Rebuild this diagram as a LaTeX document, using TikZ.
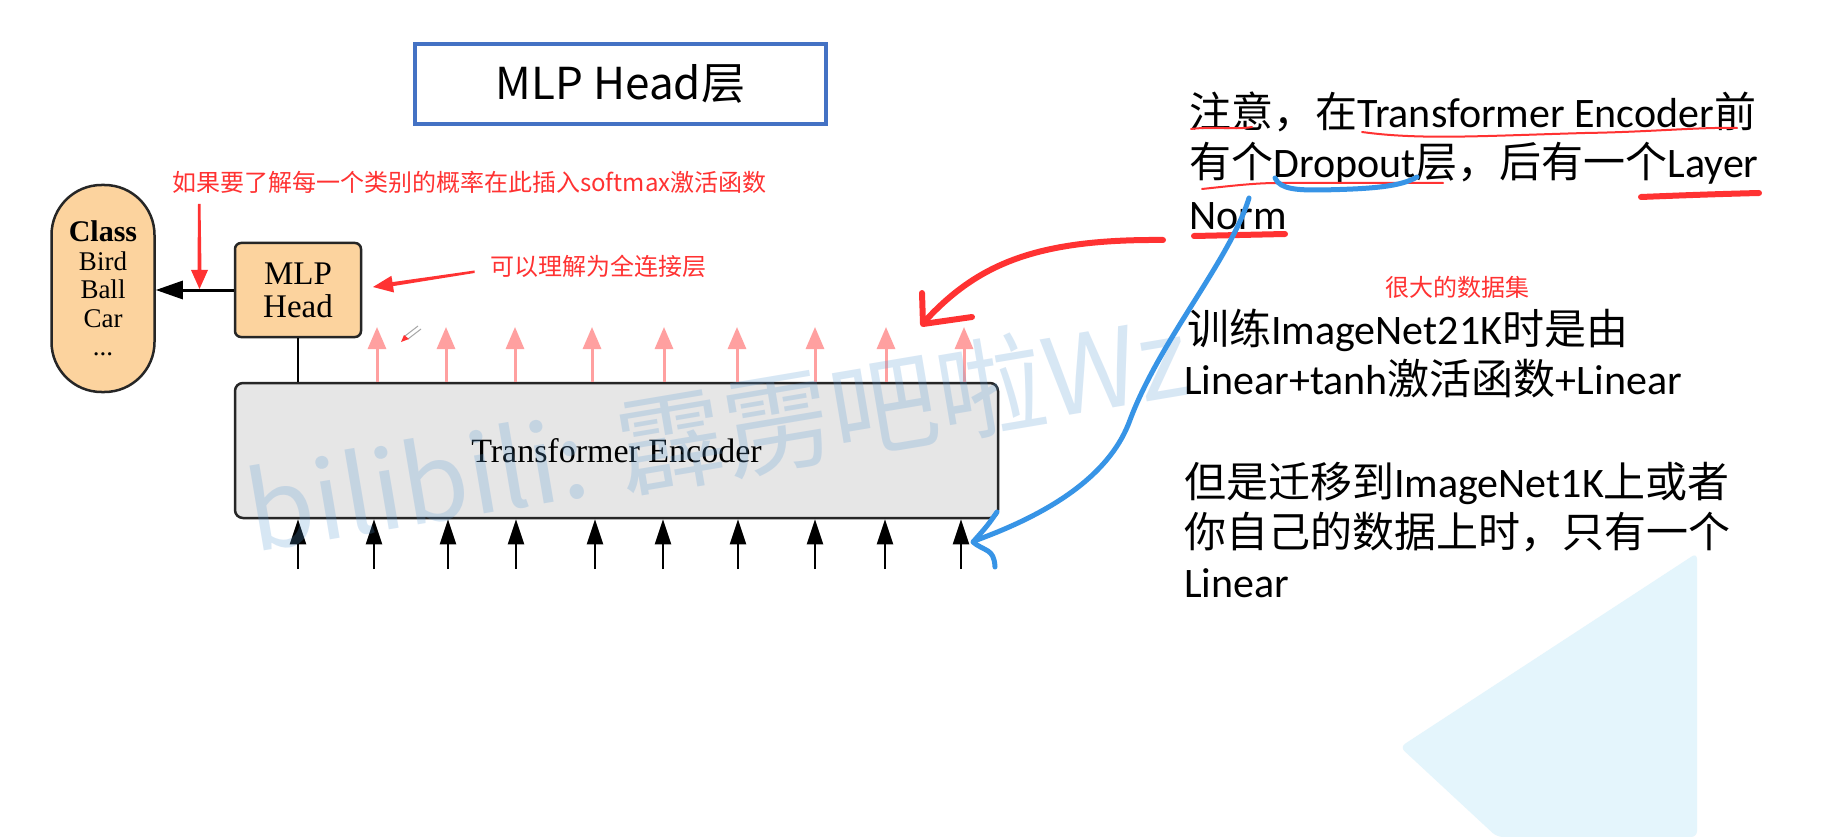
\documentclass[tikz,border=0pt]{standalone}
\usepackage{fontspec}
\newfontfamily\cjk{Noto Sans CJK SC}
\newfontfamily\lat{Carlito}
\newfontfamily\tms{Liberation Serif}
\usetikzlibrary{arrows.meta}
\definecolor{peach}{RGB}{252,211,158}
\definecolor{encgray}{RGB}{230,230,230}
\definecolor{annred}{RGB}{255,50,50}
\definecolor{annblue}{RGB}{55,148,230}
\definecolor{pinkar}{RGB}{255,160,160}
\definecolor{titleblue}{RGB}{68,114,196}
\definecolor{wmblue}{RGB}{91,155,213}
\definecolor{trib}{RGB}{228,245,252}
\begin{document}
\begin{tikzpicture}[x=1pt,y=-1pt,
  peachbox/.style={draw=black!85, line width=2.5pt, fill=peach, inner sep=0pt, align=center, font=\tms\fontsize{33}{33}\selectfont},
  rt/.style={anchor=base west, inner sep=0pt, font=\fontsize{42}{50}\selectfont},
  redtxt/.style={anchor=base west, inner sep=0pt, text=annred},
  inarrow/.style={line width=2pt, -{Triangle[length=25pt,width=16pt]}},
  pinkarrow/.style={pinkar, line width=3pt, -{Triangle[length=22pt,width=18pt]}},
  redmark/.style={annred, line width=6pt, line cap=round, line join=round},
  thinred/.style={annred, line width=2pt, line cap=round},
  bluemark/.style={annblue, line width=5pt, line cap=round, line join=round}]
\useasboundingbox (0,0) rectangle (1832,837);
\fill[white] (0,0) rectangle (1832,837);
% background play-triangle
\fill[trib, rounded corners=6pt] (1697,553) -- (1400,747) -- (1497,837) -- (1697,837) -- cycle;

% title
\node[draw=titleblue, line width=3.5pt, minimum width=411pt, minimum height=80pt, inner sep=0pt,
  font=\cjk\fontsize{44}{44}\selectfont] (title) at (620.5,84) {MLP Head层};

% diagram
\node[draw=black!85, line width=2.5pt, fill=encgray, rounded corners=8pt, minimum width=763pt,
  minimum height=135pt, inner sep=0pt, font=\tms\fontsize{34}{34}\selectfont] (enc) at (616.5,450.5) {Transformer Encoder};
\node[peachbox, rounded corners=6pt, minimum width=126pt, minimum height=94pt] (mlp) at (298,290) {MLP\\Head};
\node[peachbox, rounded corners=50pt, minimum width=103pt, minimum height=207pt,
  font=\tms\fontsize{27}{28.5}\selectfont] (cls) at (103,288.5) {{\fontsize{30}{28.5}\selectfont\bfseries Class}\\Bird\\Ball\\Car\\...};

\draw[line width=3pt, -{Triangle[length=27pt,width=18pt]}] (mlp.west) -- (mlp.west -| cls.east);
\draw[line width=2.5pt] (mlp.south) -- (mlp.south |- enc.north);

\foreach \x [count=\i] in {298,374,448,516,595,663,738,815,885,961} {
  \coordinate (in\i) at (\x,569);
  \draw[inarrow] (in\i) -- (in\i |- enc.south);
}
\foreach \x [count=\i] in {377,446,515,592,664,737,815,886,964} {
  \coordinate (out\i) at (\x,327);
  \draw[pinkarrow] (out\i |- enc.north) -- (out\i);
}

% pen cursor
\draw[gray!70, line width=1pt] (405,336) -- (418,326) (408,339) -- (421,329);
\fill[annred] (401,342) -- (404,335) -- (409,339) -- cycle;

% watermark
\node[rotate=9.6, anchor=base west, inner sep=0pt, text=wmblue, opacity=0.24,
  font=\cjk\fontsize{108}{108}\selectfont] (wm) at (254,553) {bilibili: 霹雳吧啦Wz};

% red annotations on the left
\node[redtxt, font=\cjk\fontsize{24}{24}\selectfont] (note1) at (172,192) {如果要了解每一个类别的概率在此插入softmax激活函数};
\fill[annred] (198,204) -- (200.5,204) -- (201.5,270) -- (208,270) -- (199.5,289) -- (191,270) -- (197.5,270) -- cycle;
\node[redtxt, font=\cjk\fontsize{24}{24}\selectfont] (note2) at (490,276) {可以理解为全连接层};
\fill[annred] (474.5,270.5) -- (392.5,282.1) -- (391.4,275.8) -- (373,287) -- (394,292.5) -- (393.1,286.1) -- (474.5,273) -- cycle;

% right text block
\node[rt] (r1) at (1189,128) {{\cjk 注意，在}{\lat Transformer Encoder}{\cjk 前}};
\node[rt] (r2) at (1189,178) {{\cjk 有个}{\lat Dropout}{\cjk 层，后有一个}{\lat Layer}};
\node[rt] (r3) at (1189,230) {{\lat Norm}};
\node[redtxt, font=\cjk\fontsize{24}{24}\selectfont] (big) at (1385,297) {很大的数据集};
\node[rt] (r4) at (1187,344) {{\cjk 训练}{\lat ImageNet21K}{\cjk 时是由}};
\node[rt] (r5) at (1184,394) {{\lat Linear+tanh}{\cjk 激活函数}{\lat +Linear}};
\node[rt] (r6) at (1184,497) {{\cjk 但是迁移到}{\lat ImageNet1K}{\cjk 上或者}};
\node[rt] (r7) at (1184,547) {{\cjk 你自己的数据上时，只有一个}};
\node[rt] (r8) at (1184,597) {{\lat Linear}};

% underlines
\draw[thinred] (1191,129) .. controls (1215,126) and (1235,130) .. (1252,127);
\draw[thinred] (1362,132) .. controls (1420,140) and (1480,136) .. (1585,133) .. controls (1650,132) and (1700,127) .. (1737,128);
\draw[thinred] (1202,189) .. controls (1230,186) and (1255,183) .. (1277,183) -- (1443,183);
\draw[bluemark] (1275,178) .. controls (1280,190) and (1300,190) .. (1320,190) .. controls (1370,189) and (1400,187) .. (1417,177);
\draw[redmark] (1641,197) .. controls (1690,195) and (1720,194) .. (1759,193);
\draw[redmark] (1194,236) -- (1285,234);

% red curved arrow
\coordinate (rc0) at (1163,240);
\coordinate (rc1) at (926,320);
\draw[redmark] (rc0) .. controls (1040,239) and (980,262) .. (rc1);
\draw[redmark] (922,293) -- (923,324) -- (972,317);

% blue curved arrow
\coordinate (bc0) at (1249,198);
\coordinate (bc1) at (974,541);
\draw[bluemark] (bc0) .. controls (1230,260) and (1160,340) .. (1130,420) .. controls (1112,470) and (1060,510) .. (bc1);
\draw[bluemark] (997,512) .. controls (988,525) .. (973,542) .. controls (985,552) and (994,548) .. (995,567);
\end{tikzpicture}
\end{document}
